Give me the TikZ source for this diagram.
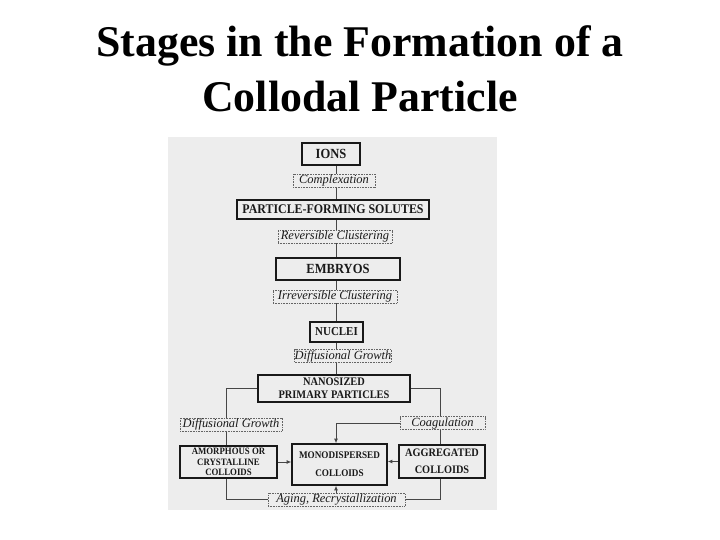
\documentclass[tikz,border=0pt]{standalone}
\usepackage{fontspec}
\setmainfont{Liberation Serif}
\newfontfamily\boxfont[FakeStretch=0.9]{Liberation Serif}
\usetikzlibrary{arrows.meta}
\definecolor{scanbg}{RGB}{237,237,237}
\definecolor{ink}{RGB}{25,25,25}
\definecolor{wirec}{RGB}{70,70,70}
\definecolor{dotc}{RGB}{100,100,100}
\pgfdeclarelayer{bgzero}
\pgfdeclarelayer{bgone}
\pgfsetlayers{bgzero,bgone,main}
\tikzset{
  stagebox/.style={draw=ink, line width=1.6bp, fill=scanbg, text=ink, inner sep=0pt, align=center},
  proc/.style={draw=dotc, densely dotted, line width=0.6bp, fill=scanbg, text=ink, inner sep=0pt,
               text height=8.6bp, text depth=2.6bp,
               font=\itshape\fontsize{12.5}{14}\selectfont},
  wire/.style={draw=wirec, line width=0.8bp},
  arr/.style={wire, -{Latex[length=4.5bp,width=4bp]}}
}
\begin{document}
\begin{tikzpicture}[x=1bp,y=-1bp]
\useasboundingbox (0,0) rectangle (720,540);
\node[anchor=base, font=\bfseries\fontsize{44}{50}\selectfont] (t1) at (360,57) {Stages in the Formation of a};
\node[anchor=base, font=\bfseries\fontsize{44}{50}\selectfont] (t2) at (360,112) {Collodal Particle};

\coordinate (ax) at (336,0);
\coordinate (lx) at (226,0);
\coordinate (rx) at (440,0);

\node[stagebox, minimum width=58bp, minimum height=22bp, font=\boxfont\bfseries\fontsize{14}{14}\selectfont] (ions) at (331,154) {IONS};
\node[proc, minimum width=82bp, minimum height=13bp] (cplx) at (334,180.5) {Complexation};
\node[stagebox, minimum width=192bp, minimum height=19bp, font=\boxfont\bfseries\fontsize{13.3}{14}\selectfont] (pfs) at (333,209.5) {PARTICLE-FORMING SOLUTES};
\node[proc, minimum width=114bp, minimum height=12.5bp] (rev) at (335,237) {Reversible Clustering};
\node[stagebox, minimum width=124bp, minimum height=22bp, font=\boxfont\bfseries\fontsize{14}{14}\selectfont] (emb) at (338,269) {EMBRYOS};
\node[proc, minimum width=124bp, minimum height=13bp] (irr) at (335,296.5) {Irreversible Clustering};
\node[stagebox, minimum width=53bp, minimum height=20bp, font=\boxfont\bfseries\fontsize{12.2}{13}\selectfont] (nuc) at (336.5,332) {NUCLEI};
\node[proc, minimum width=90bp, minimum height=12.5bp] (dgone) at (343,356) {Diffusional Growth};
\node[stagebox, minimum width=152bp, minimum height=27bp, font=\boxfont\bfseries\fontsize{11.6}{13}\selectfont] (nano) at (334,388.5) {NANOSIZED\\PRIMARY PARTICLES};
\node[proc, minimum width=102bp, minimum height=13bp] (dgtwo) at (231,424.5) {Diffusional Growth};
\node[proc, minimum width=85bp, minimum height=12.5bp] (coag) at (442.5,423) {Coagulation};
\node[stagebox, minimum width=97bp, minimum height=32bp, font=\boxfont\bfseries\fontsize{9.8}{10.5}\selectfont] (amor) at (228.5,462) {AMORPHOUS OR\\CRYSTALLINE\\COLLOIDS};
\node[stagebox, minimum width=95bp, minimum height=41bp, font=\boxfont\bfseries\fontsize{10.2}{18}\selectfont] (mono) at (339.5,464.5) {MONODISPERSED\\COLLOIDS};
\node[stagebox, minimum width=86bp, minimum height=33bp, font=\boxfont\bfseries\fontsize{11.5}{17}\selectfont] (aggr) at (442,461.5) {AGGREGATED\\COLLOIDS};
\node[proc, minimum width=137bp, minimum height=13bp] (aging) at (336.5,499.5) {Aging, Recrystallization};

\begin{pgfonlayer}{bgzero}
  \fill[white] (0,0) rectangle (720,540);
  \fill[scanbg] (168,137) rectangle (497,510);
\end{pgfonlayer}
\begin{pgfonlayer}{bgone}
  \draw[wire] (ions.south -| ax) -- (pfs.north -| ax);
  \draw[wire] (pfs.south -| ax) -- (emb.north -| ax);
  \draw[wire] (emb.south -| ax) -- (nuc.north -| ax);
  \draw[wire] (nuc.south -| ax) -- (nano.north -| ax);
  \draw[wire] (nano.west) -| (amor.north -| lx);
  \draw[wire] (nano.east) -| (aggr.north -| rx);
  \draw[arr] (coag.west) -| (mono.north -| ax);
  \draw[arr] (amor.east) -- (mono.west |- amor.east);
  \draw[arr] (aggr.west) -- (mono.east |- aggr.west);
  \draw[wire] (amor.south -| lx) |- (aging.west);
  \draw[wire] (aggr.south -| rx) |- (aging.east);
  \draw[arr] (aging.north -| ax) -- (mono.south -| ax);
\end{pgfonlayer}
\end{tikzpicture}
\end{document}
